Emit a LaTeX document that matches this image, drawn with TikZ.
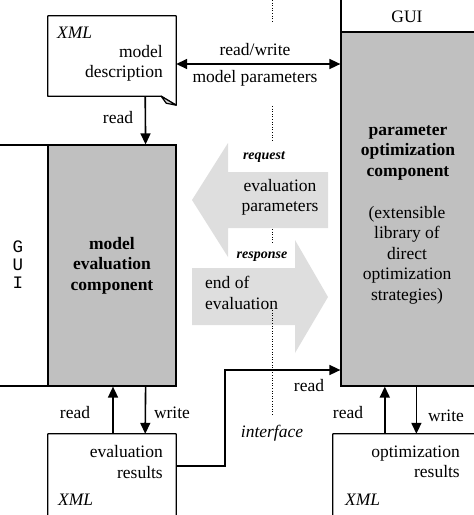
\documentclass[tikz,border=0pt]{standalone}
\usepackage{fontspec}
\setmainfont{Liberation Serif}
\newfontfamily\guimono{Liberation Mono}
\usetikzlibrary{arrows.meta}
\definecolor{boxgray}{HTML}{C0C0C0}
\definecolor{arrgray}{HTML}{DEDEDE}
\definecolor{foldgray}{HTML}{D0D0D0}
\newcommand\bigsz{\fontsize{17.5}{20.5}\selectfont}
\newcommand\smallsz{\fontsize{14}{16}\selectfont}
\begin{document}
\begin{tikzpicture}[x=1pt,y=-1pt,
  every node/.style={inner sep=0pt, font=\bigsz},
  boxline/.style={line width=1.2pt},
  compbox/.style={draw, line width=1.2pt, fill=boxgray, minimum width=#1},
  guibox/.style={draw, line width=1.2pt, fill=white},
  docarea/.style={draw=none, inner sep=0pt},
  arr/.style={line width=1.6pt, -{Triangle[length=11pt,width=10pt]}},
  dblarr/.style={line width=1.6pt, {Triangle[length=11pt,width=10pt]}-{Triangle[length=11pt,width=10pt]}},
  bigarrow/.style={fill=arrgray, draw=none},
  iface/.style={line width=1pt, dash pattern=on 1pt off 1.6pt},
  fold/.style={line width=1.2pt, fill=foldgray, line join=round}
]
\useasboundingbox (0,0) rectangle (474,515);

% GUI boxes and components
\node[guibox, minimum width=52pt, minimum height=241pt] (guil) at (22,265.5) {};
\node[compbox=128pt, minimum height=241pt] (mev) at (112,265.5) {};
\node[guibox, minimum width=142pt, minimum height=36pt] (guir) at (412,14) {};
\node[compbox=142pt, minimum height=354pt] (poc) at (412,209) {};

% document: model description
\node[docarea, minimum width=128pt, minimum height=80pt] (md) at (112,56) {};
\draw[boxline, fill=white, line join=round] (md.north west) -- (md.north east) -- ([yshift=-9pt]md.south east)
  -- ([xshift=-15pt]md.south east) -- (md.south west) -- cycle;
\draw[fold] ([xshift=-15pt]md.south east) -- ([xshift=-10pt,yshift=-7pt]md.south east) -- ([yshift=-9pt]md.south east) -- cycle;

% document: evaluation results
\node[docarea, minimum width=128pt, minimum height=83pt] (er) at (112,475.5) {};
\draw[boxline, fill=white, line join=round] (er.north west) -- (er.north east) -- ([yshift=-9pt]er.south east)
  -- ([xshift=-15pt]er.south east) -- (er.south west) -- cycle;
\draw[fold] ([xshift=-15pt]er.south east) -- ([xshift=-10pt,yshift=-7pt]er.south east) -- ([yshift=-9pt]er.south east) -- cycle;

% document: optimization results
\node[docarea, minimum width=142pt, minimum height=83pt] (opr) at (404,475.5) {};
\draw[boxline, fill=white, line join=round] (opr.north west) -- (opr.north east) -- ([yshift=-9pt]opr.south east)
  -- ([xshift=-15pt]opr.south east) -- (opr.south west) -- cycle;
\draw[fold] ([xshift=-15pt]opr.south east) -- ([xshift=-10pt,yshift=-7pt]opr.south east) -- ([yshift=-9pt]opr.south east) -- cycle;

% big request / response arrows
\fill[bigarrow] (192,200) -- (228,143) -- (228,172) -- (328,172) -- (328,228) -- (228,228) -- (228,257) -- cycle;
\fill[bigarrow] (192,268) -- (295,268) -- (295,240) -- (328,297) -- (295,353) -- (295,325) -- (192,325) -- cycle;

% interface line
\draw[iface] (272,0) -- (272,23);
\draw[iface] (272,106) -- (272,142);
\draw[iface] (272,229) -- (272,243);
\draw[iface] (272,310) -- (272,415);

% texts
\node[anchor=west, font=\bigsz\itshape] (x1) at (57,33) {XML};
\node[anchor=east, align=right] (mdt) at (163,63.5) {model\\description};
\node (lr1) at (118,118) {read};
\node (lrw) at (255,50) {read/write};
\node (lmp) at (255,78) {model parameters};
\node (gtop) at (407,17) {GUI};
\node[align=center, font=\bigsz\bfseries] (poct) at (408,152.5) {parameter\\optimization\\component};
\node[align=center] (lib) at (407,255) {(extensible\\library of\\direct\\optimization\\strategies)};
\node[align=center, font=\bigsz\bfseries] (mevt) at (112,265.5) {model\\evaluation\\component};
\node[align=center, font=\fontsize{17.5}{18}\selectfont\guimono] (gui) at (18,265) {G\\U\\I};
\node[font=\smallsz\bfseries\itshape] (req) at (264,157) {request};
\node[align=center] (evp) at (280,197.5) {evaluation\\parameters};
\node[font=\smallsz\bfseries\itshape] (resp) at (262,257) {response};
\node[anchor=west, align=left] (eoe) at (205,293) {end of\\evaluation};
\node[font=\bigsz\itshape] (ifc) at (272,433) {interface};
\node (lr2) at (75,413) {read};
\node (lw1) at (172,413) {write};
\node (lr3) at (309,386) {read};
\node (lr4) at (348,413) {read};
\node (lw2) at (446,416) {write};
\node[anchor=east, align=right] (ert) at (163,462) {evaluation\\results};
\node[anchor=west, font=\bigsz\itshape] (x2) at (58,500) {XML};
\node[anchor=east, align=right] (ort) at (460,462) {optimization\\results};
\node[anchor=west, font=\bigsz\itshape] (x3) at (345,500) {XML};

% connectors
\draw[arr] ([xshift=-31pt]md.south east) -- ([xshift=-31pt]mev.north east);
\draw[dblarr] ([yshift=-8pt]md.east) -- ([yshift=-8pt]md.east -| poc.west);
\draw[arr] ([xshift=1pt]er.north) -- ([xshift=1pt]mev.south);
\draw[arr] ([xshift=-31pt]mev.south east) -- ([xshift=-31pt]er.north east);
\coordinate (bend) at (225,370);
\draw[arr] ([yshift=9.5pt]er.east) -| (bend) -- (bend -| poc.west);
\draw[arr] ([xshift=52pt]opr.north west) -- ([xshift=52pt]opr.north west |- poc.south);
\draw[arr] ([xshift=76pt]poc.south west) -- ([xshift=76pt]poc.south west |- opr.north);
\end{tikzpicture}
\end{document}
